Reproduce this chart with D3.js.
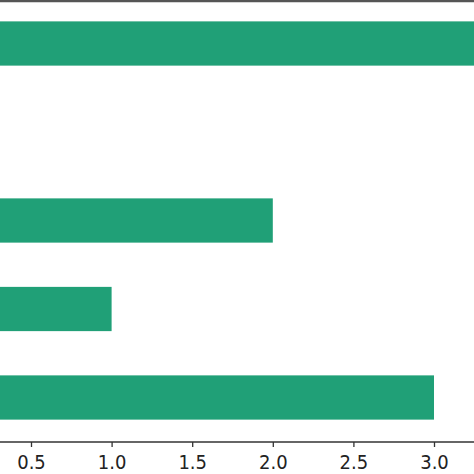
<!DOCTYPE html>
<html><head><meta charset="utf-8">
<script src="https://cdn.jsdelivr.net/npm/d3@7"></script>
<style>html,body{margin:0;padding:0;background:#fff;overflow:hidden}</style>
</head><body>
<svg id="c" width="474" height="474"></svg>
<script>
const categories = ["A", "B", "C", "D", "E"];
const values = [4.0, 0, 2.0, 1.0, 3.0];
const tickValues = [0.5, 1.0, 1.5, 2.0, 2.5, 3.0];

const svg = d3.select("#c");
const x = d3.scaleLinear().domain([0, 3]).range([-49.6, 434]);
const y = d3.scaleBand().domain(categories).range([-0.75, 441.75]).paddingInner(0.5).paddingOuter(0.25);

svg.append("g").selectAll("rect").data(categories).join("rect")
  .attr("x", x(0))
  .attr("y", d => y(d))
  .attr("width", (d, i) => Math.max(0, x(values[i]) - x(0)))
  .attr("height", y.bandwidth())
  .attr("fill", "#20a077");

// top spine
svg.append("line").attr("x1", 0).attr("x2", 474).attr("y1", 1).attr("y2", 1)
  .attr("stroke", "#555").attr("stroke-width", 2.5);

const axis = d3.axisBottom(x).tickValues(tickValues).tickFormat(d3.format(".1f")).tickSize(5).tickPadding(4);
const g = svg.append("g").attr("transform", "translate(0,442)").call(axis);
g.select(".domain").remove();
g.append("line").attr("x1", 0).attr("x2", 474).attr("stroke", "#333").attr("stroke-width", 1.5);
g.selectAll(".tick line").attr("stroke", "#333").attr("stroke-width", 1.3);
g.selectAll(".tick text").attr("fill", "#222").style("font-family", "DejaVu Sans").style("font-size", "18px")
  .attr("y", 24.5).attr("dy", 0).attr("transform", "scale(1,1.12)");
</script>
</body></html>
